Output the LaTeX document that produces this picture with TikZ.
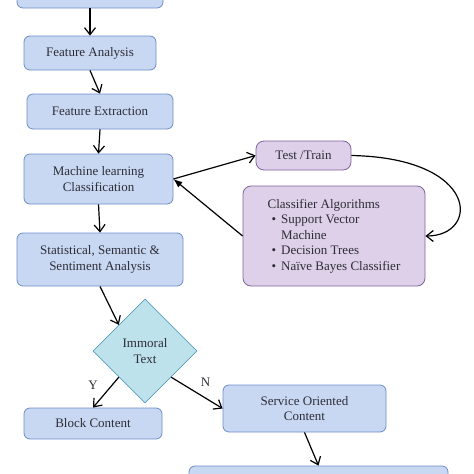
\documentclass[tikz,border=0pt]{standalone}
\usepackage{fontspec}
\setmainfont{Liberation Serif}
\usetikzlibrary{shapes.geometric,arrows.meta}
\definecolor{fondoazul}{RGB}{201,216,242}
\definecolor{bordeazul}{RGB}{110,140,200}
\definecolor{fondolila}{RGB}{221,208,232}
\definecolor{bordelila}{RGB}{130,100,160}
\definecolor{fondorombo}{RGB}{190,226,236}
\definecolor{borderombo}{RGB}{90,160,190}
\definecolor{texto}{RGB}{45,45,55}
\begin{document}
\begin{tikzpicture}[x=1pt,y=-1pt,font=\fontsize{13}{15.5}\selectfont,text=texto,
        caja/.style={draw=bordeazul,fill=fondoazul,rounded corners=6pt,line width=0.8pt,align=center,inner sep=0pt},
        cajalila/.style={draw=bordelila,fill=fondolila,rounded corners=8pt,line width=0.8pt,inner sep=0pt},
        rombo/.style={diamond,draw=borderombo,fill=fondorombo,line width=0.8pt,align=center,inner sep=0pt},
        flecha/.style={line width=1.2pt,-{Straight Barb[length=7pt,width=11pt]}}] %Flujo de clasificacion
            \useasboundingbox (0,0) rectangle (474,474);

            \node[caja,minimum width=146pt,minimum height=38pt] (T) at (90,-11) {};
            \node[caja,minimum width=132pt,minimum height=34pt] (FA) at (90,53) {Feature Analysis};
            \node[caja,minimum width=146pt,minimum height=35pt] (FE) at (100,111.5) {Feature Extraction};
            \node[caja,minimum width=149pt,minimum height=50pt] (ML) at (98.5,179) {Machine learning\\Classification};
            \node[caja,minimum width=166pt,minimum height=53pt] (SA) at (100,259.5) {Statistical, Semantic \&\\Sentiment Analysis};

            \node[rombo,minimum width=104pt,minimum height=104pt] (IT) at (145,351) {Immoral\\Text};
            \node[caja,minimum width=138pt,minimum height=31pt] (BC) at (93,423.5) {Block Content};
            \node[caja,minimum width=163pt,minimum height=47pt] (SO) at (304.5,408.5) {Service Oriented\\Content};
            \node[caja,minimum width=259pt,minimum height=40pt] (BT) at (318.5,486) {};

            \node[cajalila,minimum width=95pt,minimum height=29pt] (TT) at (303.5,155.5) {Test /Train};
            \node[cajalila,minimum width=182pt,minimum height=100pt] (CA) at (334,236) {%
                \begin{tabular}{@{}l@{}}
                Classifier Algorithms\\
                \hspace{4pt}\textbullet\hspace{5pt}Support Vector\\
                \hspace{4pt}\phantom{\textbullet}\hspace{5pt}Machine\\
                \hspace{4pt}\textbullet\hspace{5pt}Decision Trees\\
                \hspace{4pt}\textbullet\hspace{5pt}Na\"ive Bayes Classifier
                \end{tabular}};

            \draw[flecha] (T) -- (FA);
            \draw[flecha] (FA.south) -- (FE.north);
            \draw[flecha] (FE.south) -- (ML.north);
            \draw[flecha] (ML.south) -- (SA.north);
            \draw[flecha] (SA.south) -- (IT.north west);
            \draw[flecha] (IT.south west) -- node[pos=0.55,anchor=south east,xshift=-3pt]{Y} (BC.north);
            \draw[flecha] (IT.south east) -- node[pos=0.5,anchor=south west,yshift=2pt]{N} (SO.west);
            \draw[flecha] (SO.south) -- (BT.north);

            \draw[flecha] (ML.east) -- (TT.west);
            \draw[flecha] (TT.east) .. controls (480,158) and (480,236) .. (CA.east);
            \draw[line width=1.2pt,-{Latex[length=9pt,width=7pt]}] (CA.west) -- (ML.east);
        \end{tikzpicture}
\end{document}
